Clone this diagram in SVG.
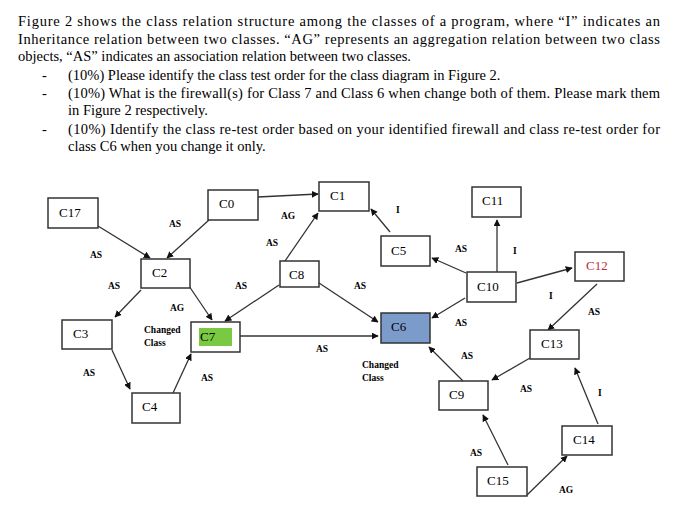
<svg xmlns="http://www.w3.org/2000/svg" width="700" height="512" viewBox="0 0 700 512">
<style>
.p{font-family:"Liberation Serif",serif;font-size:14.5px;fill:#000}
.n rect{fill:#fff;stroke:#333;stroke-width:1.5}
.n text{font-family:"Liberation Serif",serif;font-size:13px;fill:#000}
.l{font-family:"Liberation Serif",serif;font-size:9.5px;font-weight:bold;fill:#000}
#edges line{stroke:#333;stroke-width:1.3;marker-end:url(#a)}
</style>
<defs><marker id="a" viewBox="0 0 10 10" refX="9" refY="5" markerWidth="7" markerHeight="7" orient="auto" markerUnits="userSpaceOnUse"><path d="M0,0L10,5L0,10z" fill="#111"/></marker></defs>
<rect width="700" height="512" fill="#fff"/>
<text class="p" x="18" y="26" textLength="642" lengthAdjust="spacing">Figure 2 shows the class relation structure among the classes of a program, where “I” indicates an</text>
<text class="p" x="18" y="44" textLength="642" lengthAdjust="spacing">Inheritance relation between two classes. “AG” represents an aggregation relation between two class</text>
<text class="p" x="18" y="61">objects, “AS” indicates an association relation between two classes.</text>
<text class="p" x="42" y="80">-</text><text class="p" x="68" y="80">(10%) Please identify the class test order for the class diagram in Figure 2.</text>
<text class="p" x="42" y="98">-</text><text class="p" x="68" y="98" textLength="592" lengthAdjust="spacing">(10%) What is the firewall(s) for Class 7 and Class 6 when change both of them. Please mark them</text>
<text class="p" x="68" y="115">in Figure 2 respectively.</text>
<text class="p" x="42" y="134">-</text><text class="p" x="68" y="134" textLength="592" lengthAdjust="spacing">(10%) Identify the class re-test order based on your identified firewall and class re-test order for</text>
<text class="p" x="68" y="151">class C6 when you change it only.</text>
<g id="edges">
<line x1="98" y1="226" x2="150" y2="258"/>
<line x1="209" y1="220" x2="167" y2="258"/>
<line x1="258" y1="197" x2="318" y2="194"/>
<line x1="141" y1="290" x2="115" y2="317"/>
<line x1="187" y1="283" x2="212" y2="320"/>
<line x1="279" y1="285" x2="225" y2="321"/>
<line x1="285" y1="261" x2="318" y2="213"/>
<line x1="112" y1="350" x2="130" y2="389"/>
<line x1="173" y1="393" x2="191" y2="354"/>
<line x1="238" y1="336" x2="378" y2="336"/>
<line x1="319" y1="283" x2="378" y2="322"/>
<line x1="390" y1="232" x2="371" y2="209"/>
<line x1="466" y1="273" x2="432" y2="258"/>
<line x1="497" y1="272" x2="497" y2="220"/>
<line x1="517" y1="283" x2="572" y2="268"/>
<line x1="465" y1="298" x2="432" y2="318"/>
<line x1="597" y1="284" x2="548" y2="330"/>
<line x1="530" y1="358" x2="492" y2="380"/>
<line x1="463" y1="381" x2="429" y2="347"/>
<line x1="508" y1="465" x2="483" y2="415"/>
<line x1="527" y1="495" x2="567" y2="456"/>
<line x1="598" y1="424" x2="575" y2="368"/>
</g>
<g id="C17" class="n"><rect x="48" y="198" width="50" height="30"/><text x="59" y="217">C17</text></g>
<g id="C0" class="n"><rect x="208" y="190" width="50" height="30"/><text x="219" y="208">C0</text></g>
<g id="C1" class="n"><rect x="319" y="182" width="50" height="29"/><text x="330" y="200">C1</text></g>
<g id="C2" class="n"><rect x="141" y="259" width="49" height="29"/><text x="152" y="277">C2</text></g>
<g id="C8" class="n"><rect x="280" y="261" width="39" height="26"/><text x="289" y="279">C8</text></g>
<g id="C3" class="n"><rect x="62" y="320" width="50" height="29"/><text x="73" y="338">C3</text></g>
<g id="C7" class="n"><rect x="191" y="322" width="49" height="30"/><rect x="199" y="328" width="33" height="18" style="fill:#7ac943;stroke:none"/><text x="200" y="341">C7</text></g>
<g id="C4" class="n"><rect x="132" y="393" width="48" height="30"/><text x="142" y="411">C4</text></g>
<g id="C5" class="n"><rect x="381" y="236" width="49" height="30"/><text x="391" y="255">C5</text></g>
<g id="C11" class="n"><rect x="472" y="187" width="49" height="30"/><text x="482" y="205">C11</text></g>
<g id="C12" class="n"><rect x="575" y="252" width="49" height="29"/><text x="586" y="270" style="fill:#c0303a">C12</text></g>
<g id="C10" class="n"><rect x="467" y="272" width="49" height="30"/><text x="477" y="291">C10</text></g>
<g id="C6" class="n"><rect x="381" y="313" width="49" height="30" style="fill:#7b9ccb"/><text x="391" y="331">C6</text></g>
<g id="C13" class="n"><rect x="530" y="330" width="49" height="29"/><text x="541" y="348">C13</text></g>
<g id="C9" class="n"><rect x="439" y="381" width="49" height="29"/><text x="449" y="399">C9</text></g>
<g id="C14" class="n"><rect x="562" y="426" width="50" height="29"/><text x="573" y="444">C14</text></g>
<g id="C15" class="n"><rect x="477" y="467" width="50" height="29"/><text x="487" y="485">C15</text></g>
<g id="labels">
<text class="l" x="169" y="227">AS</text>
<text class="l" x="90" y="258">AS</text>
<text class="l" x="108" y="289">AS</text>
<text class="l" x="235" y="289">AS</text>
<text class="l" x="170" y="311">AG</text>
<text class="l" x="144" y="333">Changed</text>
<text class="l" x="144" y="346">Class</text>
<text class="l" x="83" y="376">AS</text>
<text class="l" x="201" y="381">AS</text>
<text class="l" x="316" y="352">AS</text>
<text class="l" x="281" y="219">AG</text>
<text class="l" x="266" y="246">AS</text>
<text class="l" x="354" y="289">AS</text>
<text class="l" x="396" y="213">I</text>
<text class="l" x="455" y="252">AS</text>
<text class="l" x="513" y="254">I</text>
<text class="l" x="455" y="326">AS</text>
<text class="l" x="549" y="299">I</text>
<text class="l" x="588" y="315">AS</text>
<text class="l" x="461" y="359">AS</text>
<text class="l" x="362" y="368">Changed</text>
<text class="l" x="362" y="381">Class</text>
<text class="l" x="520" y="392">AS</text>
<text class="l" x="598" y="396">I</text>
<text class="l" x="470" y="456">AS</text>
<text class="l" x="559" y="493">AG</text>
</g>
</svg>
